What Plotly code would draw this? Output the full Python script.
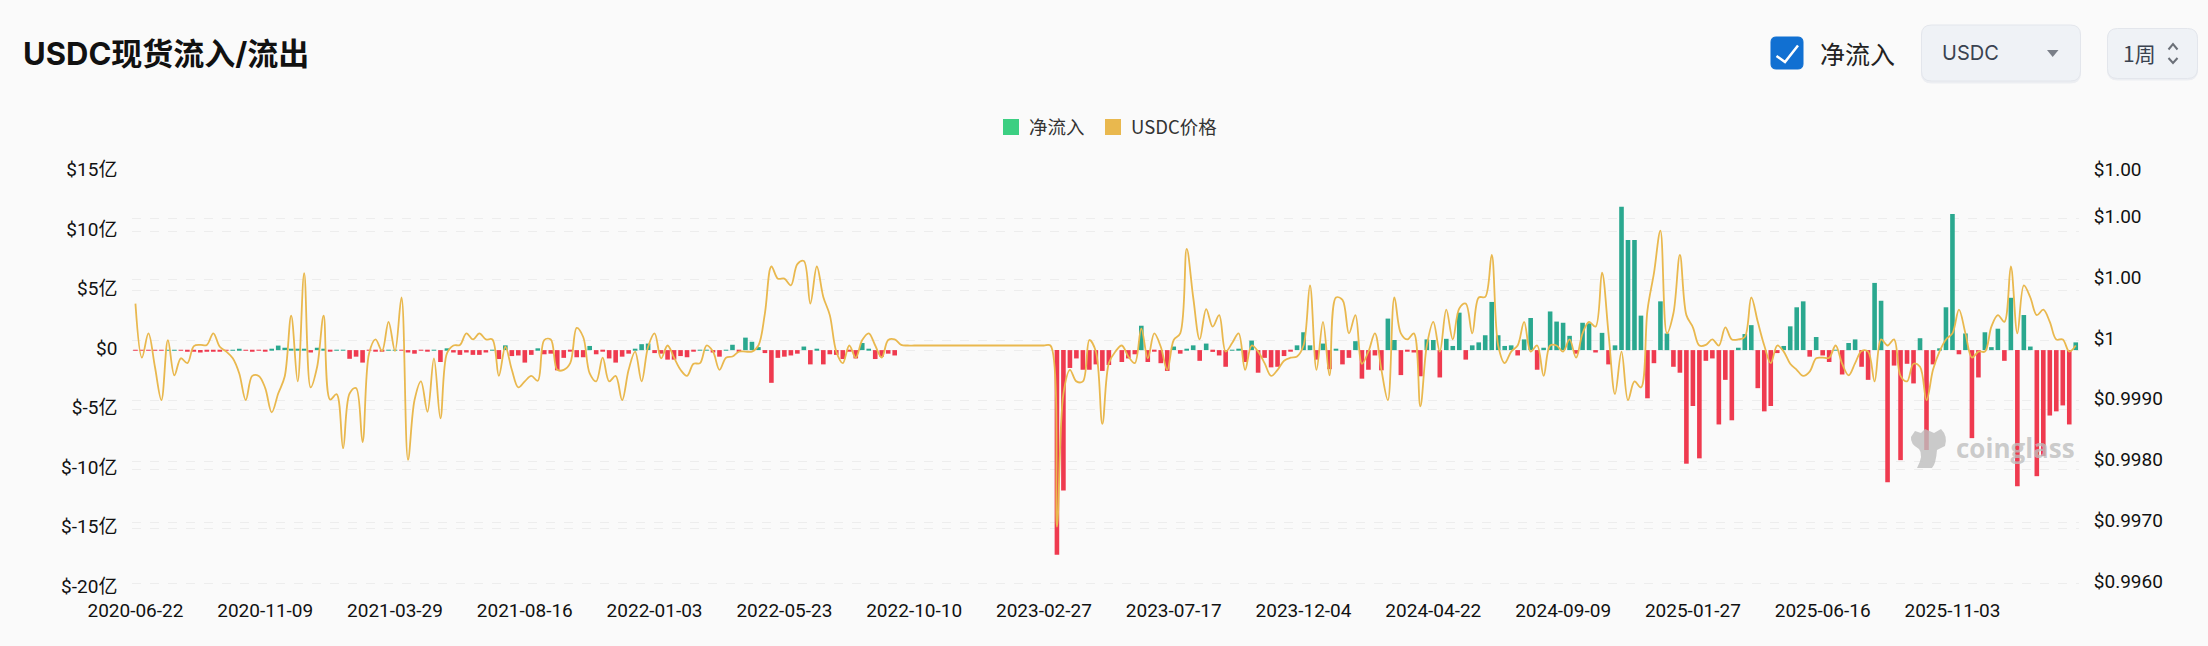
import pandas as pd
import plotly.graph_objects as go

W, H = 2208, 646

# weekly categories
weeks = pd.date_range("2020-06-22", periods=300, freq="7D").strftime("%Y-%m-%d").tolist()

# net flow, in 亿 USD
net_flow = [
    -0.03, -0.03, -0.02, -0.02, -0.02, 0.02, 0.02, -0.03, -0.1, -0.1, -0.2, -0.05, -0.05, -0.05, -0.02, 0.02, 0.08, -0.04, -0.06, -0.04,
    -0.1, 0.04, 0.38, 0.2, 0.05, 0.05, 0.1, -0.2, 0.2, 0.05, -0.1, 0.02, 0.02, -0.73, -0.55, -1.05, -0.02, -0.1, -0.1, 0.02,
    0.02, -0.03, -0.2, -0.3, -0.03, -0.1, 0.02, -1.0, 0.15, -0.2, -0.4, -0.2, -0.4, -0.4, -0.2, 0.03, -0.75, 0.4, -0.5, -0.45,
    -1.05, -0.4, 0.15, -0.35, -0.3, -1.7, -0.65, -0.1, -0.6, -0.6, 0.35, -0.35, -0.1, -0.7, -1.05, -0.55, -0.3, 0.1, 0.5, 0.55,
    -0.25, -0.3, -0.8, -0.8, -0.5, -0.6, -0.05, 0.03, 0.02, -0.2, -0.55, 0.01, 0.45, -0.15, 1.05, 0.7, 0.25, -0.25, -2.75, -0.65,
    -0.55, -0.45, -0.3, 0.3, -1.2, 0.05, -1.2, -0.35, -0.4, -0.75, -0.05, -0.7, 0.6, 0.05, -0.75, -0.55, -0.3, -0.45, 0, 0,
    0, 0, 0, 0, 0, 0, 0, 0, 0, 0, 0, 0, 0, 0, 0, 0, 0, 0, 0, 0,
    0, 0, -17.2, -11.8, -1.5, -0.7, -1.65, -1.65, -1.2, -1.75, -1.25, 0, -1.0, -0.7, -0.35, 2.05, -1.0, -0.1, -1.1, -1.75,
    0.3, -0.3, 0.1, 0.4, -0.9, 0.55, -0.15, -0.45, -1.4, 0.03, 0.1, -1.0, 0.8, -1.9, -0.65, -1.45, -1.4, -0.5, -0.1, 0.4,
    1.5, 0.4, -0.8, 0.55, -1.6, 0.05, -1.2, -0.65, 0.75, -2.4, -1.65, -0.45, -1.7, 2.65, 0.85, -2.1, -0.05, -0.2, -2.2, 0.9,
    0.85, -2.3, 0.95, 0.35, 3.15, -0.8, 0.4, 0.65, 1.25, 4.05, 1.25, 0.35, 0.4, -0.45, 0.9, 2.7, -1.65, 0.2, 3.25, 2.4,
    2.3, 1.2, -0.3, 2.3, 2.25, -0.2, 1.45, -1.2, 0.4, 12.05, 9.25, 9.25, 2.9, -4.05, -1.1, 4.1, 1.4, -1.4, -1.9, -9.55,
    -4.7, -9.1, -0.9, -0.7, -6.25, -2.5, -5.9, 0.2, 1.35, 2.1, -3.2, -5.15, -4.7, -0.25, 0.35, 2.0, 3.6, 4.1, -0.55, 1.1,
    -0.45, -1.0, 0.02, -2.05, 0.6, 0.9, -1.4, -2.5, 5.65, 4.15, -11.1, -1.3, -9.25, -1.15, -2.8, 1.0, -8.4, -1.2, 0.15, 3.6,
    11.45, -0.35, 1.4, -7.4, -2.3, 1.5, 0.25, 1.8, -0.9, 4.4, -11.45, 2.95, 0.3, -10.6, -8.9, -5.5, -5.15, -4.65, -6.25, 0.65,
]

usdc_price = [
    1.00060, 0.99971, 1.00011, 0.99956, 0.99901, 1.00000, 0.99942, 0.99970, 0.99962, 0.99990, 0.99992, 0.99992, 1.00011, 0.99989, 0.99981, 0.99970, 0.99945, 0.99901, 0.99941, 0.99941,
    0.99921, 0.99881, 0.99912, 0.99940, 1.00040, 0.99932, 1.00110, 0.99922, 0.99956, 1.00040, 0.99902, 0.99911, 0.99822, 0.99912, 0.99921, 0.99832, 0.99978, 1.00001, 0.99982, 1.00030,
    0.99982, 1.00070, 0.99803, 0.99901, 0.99932, 0.99882, 0.99970, 0.99871, 0.99978, 0.99991, 0.99992, 1.00011, 1.00001, 1.00011, 1.00001, 1.00001, 0.99941, 0.99989, 0.99951, 0.99922,
    0.99932, 0.99941, 0.99933, 1.00000, 1.00001, 0.99951, 0.99951, 0.99962, 1.00020, 1.00005, 0.99945, 0.99932, 0.99971, 0.99932, 0.99941, 0.99901, 0.99951, 0.99981, 0.99932, 0.99989,
    1.00011, 0.99970, 0.99991, 0.99971, 0.99951, 0.99941, 0.99961, 0.99962, 0.99991, 0.99981, 0.99951, 0.99971, 0.99973, 0.99981, 0.99981, 0.99981, 0.99991, 1.00044, 1.00121, 1.00101,
    1.00101, 1.00090, 1.00125, 1.00130, 1.00060, 1.00121, 1.00071, 1.00041, 0.99981, 0.99962, 0.99991, 0.99971, 1.00000, 1.00011, 0.99991, 0.99971, 1.00000, 1.00001, 0.99992, 0.99991,
    0.99991, 0.99991, 0.99991, 0.99991, 0.99991, 0.99991, 0.99991, 0.99991, 0.99991, 0.99991, 0.99991, 0.99991, 0.99991, 0.99991, 0.99991, 0.99991, 0.99991, 0.99991, 0.99991, 0.99991,
    0.99991, 0.99991, 0.99693, 0.99912, 0.99951, 0.99932, 0.99932, 1.00000, 0.99981, 0.99862, 0.99962, 0.99981, 0.99991, 0.99973, 0.99962, 1.00019, 0.99970, 1.00011, 0.99989, 0.99951,
    1.00000, 1.00011, 1.00150, 1.00070, 1.00001, 1.00051, 1.00022, 1.00041, 0.99981, 0.99995, 1.00011, 0.99951, 0.99991, 0.99981, 0.99962, 0.99941, 0.99951, 0.99966, 0.99971, 0.99973,
    0.99991, 1.00090, 0.99951, 1.00030, 0.99942, 1.00070, 1.00066, 1.00011, 1.00041, 0.99961, 0.99981, 1.00011, 0.99951, 0.99901, 1.00070, 1.00011, 1.00001, 1.00011, 0.99891, 0.99991,
    1.00030, 0.99981, 1.00050, 1.00001, 1.00052, 1.00060, 1.00011, 1.00070, 1.00071, 1.00140, 0.99991, 0.99962, 0.99981, 0.99991, 1.00030, 0.99981, 0.99991, 0.99941, 0.99991, 0.99991,
    0.99981, 1.00001, 0.99971, 1.00011, 1.00030, 1.00022, 1.00111, 1.00011, 0.99911, 0.99981, 0.99901, 0.99932, 0.99922, 1.00049, 1.00110, 1.00180, 1.00011, 1.00044, 1.00140, 1.00041,
    1.00021, 0.99991, 0.99992, 1.00001, 0.99991, 1.00021, 1.00001, 1.00001, 1.00005, 1.00070, 1.00030, 0.99991, 0.99962, 0.99991, 0.99981, 0.99961, 0.99951, 0.99941, 0.99948, 0.99970,
    0.99971, 0.99971, 0.99991, 0.99961, 0.99942, 0.99962, 0.99982, 0.99981, 0.99932, 1.00001, 0.99991, 1.00001, 0.99941, 0.99932, 0.99961, 0.99956, 0.99901, 0.99951, 0.99981, 1.00001,
    1.00011, 1.00050, 1.00011, 0.99971, 0.99981, 0.99981, 1.00022, 1.00041, 1.00030, 1.00121, 1.00011, 1.00090, 1.00070, 1.00041, 1.00050, 1.00030, 1.00001, 1.00001, 0.99981, 0.99991,
]

x_ticks = ["2020-06-22", "2020-11-09", "2021-03-29", "2021-08-16", "2022-01-03", "2022-05-23", "2022-10-10", "2023-02-27",
           "2023-07-17", "2023-12-04", "2024-04-22", "2024-09-09", "2025-01-27", "2025-06-16", "2025-11-03"]
left_vals = [-20, -15, -10, -5, 0, 5, 10, 15]
left_text = ["$-20亿", "$-15亿", "$-10亿", "$-5亿", "$0", "$5亿", "$10亿", "$15亿"]
right_vals = [0.996, 0.997, 0.998, 0.999, 1.0, 1.001, 1.002, 1.00277]
right_text = ["$0.9960", "$0.9970", "$0.9980", "$0.9990", "$1", "$1.00", "$1.00", "$1.00"]

GREEN = "#2AA88F"
RED = "#EF3A4F"
GOLD = "#E9B84E"
BG = "#FAFAFA"
FONT = "Roboto, Noto Sans CJK SC, sans-serif"
CJK = "Noto Sans CJK SC, sans-serif"


def px(x, y):
    return f"{x / W:.5f},{1 - y / H:.5f}"


def rounded(x0, y0, x1, y1, r):
    return (f"M{px(x0 + r, y0)} L{px(x1 - r, y0)} Q{px(x1, y0)} {px(x1, y0 + r)} "
            f"L{px(x1, y1 - r)} Q{px(x1, y1)} {px(x1 - r, y1)} "
            f"L{px(x0 + r, y1)} Q{px(x0, y1)} {px(x0, y1 - r)} "
            f"L{px(x0, y0 + r)} Q{px(x0, y0)} {px(x0 + r, y0)} Z")


def box(x0, y0, x1, y1, r, fill, line=None):
    return dict(type="path", xref="paper", yref="paper", path=rounded(x0, y0, x1, y1, r), fillcolor=fill,
                line=dict(color=line or fill, width=1), layer="below")


def text(x, y, s, size, color="#333333", anchor="left", family=CJK, **kw):
    return dict(xref="paper", yref="paper", x=x / W, y=1 - y / H, text=s, showarrow=False, xanchor=anchor,
                yanchor="middle", xshift=-1, font=dict(size=size, color=color, family=family), **kw)


fig = go.Figure()
fig.add_trace(go.Bar(x=weeks, y=net_flow, name="净流入", yaxis="y",
                     marker=dict(color=[GREEN if v >= 0 else RED for v in net_flow], line=dict(width=0))))
fig.add_trace(go.Scatter(x=weeks, y=usdc_price, name="USDC价格", yaxis="y2", mode="lines",
                         line=dict(color=GOLD, width=1.8, shape="spline", smoothing=1)))

grid = "#EDEDED"
fig.update_layout(
    width=W, height=H, margin=dict(l=0, r=0, t=0, b=0, pad=0), showlegend=False,
    paper_bgcolor=BG, plot_bgcolor=BG, bargap=0.29,
    font=dict(family=FONT, size=19, color="#111111"),
    xaxis=dict(type="category", domain=[132.2 / W, 2079 / W], range=[-0.5, 299.5], tickmode="array", tickvals=x_ticks,
               ticktext=x_ticks, tickangle=0, showgrid=False, zeroline=False, showline=False, anchor="y",
               ticks="outside", ticklen=5, tickcolor="rgba(0,0,0,0)", automargin=False),
    yaxis=dict(domain=[1 - 588 / H, 1 - 171.7 / H], range=[-20, 15], tickmode="array", tickvals=left_vals,
               ticktext=left_text, showgrid=True, gridcolor=grid, griddash="dash", gridwidth=1, zeroline=False,
               ticks="outside", ticklen=10, tickcolor="rgba(0,0,0,0)", automargin=False, ticklabelshift=-2),
    yaxis2=dict(domain=[1 - 588 / H, 1 - 171.7 / H], range=[0.99592, 1.00277], overlaying="y", side="right", anchor="x",
                tickmode="array", tickvals=right_vals, ticktext=right_text, showgrid=True, gridcolor=grid,
                griddash="dash", gridwidth=1, zeroline=False, ticks="outside", ticklen=10,
                tickcolor="rgba(0,0,0,0)", automargin=False, ticklabelshift=-2),
)

shapes = [
    # legend swatches
    dict(type="rect", xref="paper", yref="paper", x0=1003 / W, x1=1019 / W, y0=1 - 135 / H, y1=1 - 119 / H,
         fillcolor="#3CCF82", line=dict(width=0)),
    dict(type="rect", xref="paper", yref="paper", x0=1105 / W, x1=1121 / W, y0=1 - 135 / H, y1=1 - 119 / H,
         fillcolor=GOLD, line=dict(width=0)),
    # checkbox
    box(1771, 37, 1803, 69, 5, "#1170D2"),
    dict(type="path", xref="paper", yref="paper", path=f"M{px(1776.5, 56)} L{px(1785, 62)} L{px(1798, 45.5)}",
         line=dict(color="white", width=2.5)),
    # dropdown and interval boxes
    box(1921.5, 27, 2080.5, 83, 10, "#ECEEF2", "#ECEEF2"),
    box(1921.5, 25, 2080.5, 81, 10, "#EFF2F6", "#E3E6EC"),
    dict(type="path", xref="paper", yref="paper", path=f"M{px(2047, 50)} L{px(2058.5, 50)} L{px(2052.7, 57)} Z",
         fillcolor="#7A7F88", line=dict(width=0)),
    box(2107.5, 30, 2197.5, 80, 10, "#ECEEF2", "#ECEEF2"),
    box(2107.5, 28.5, 2197.5, 78.5, 10, "#EFF2F6", "#E3E6EC"),
    dict(type="path", xref="paper", yref="paper", path=f"M{px(2168.5, 49.5)} L{px(2173, 44)} L{px(2177.5, 49.5)}",
         line=dict(color="#6B7078", width=2)),
    dict(type="path", xref="paper", yref="paper", path=f"M{px(2168.5, 58)} L{px(2173, 63)} L{px(2177.5, 58)}",
         line=dict(color="#6B7078", width=2)),
    # watermark mascot
    dict(type="path", xref="paper", yref="paper",
         path=(f"M{px(1915, 431)} L{px(1921, 433)} L{px(1925, 429)} L{px(1934, 433)} L{px(1941, 429)} "
               f"Q{px(1948, 436)} {px(1945, 446)} L{px(1937, 450)} Q{px(1936, 464)} {px(1932, 468)} "
               f"L{px(1917, 468)} Q{px(1924, 455)} {px(1919, 449)} Q{px(1910, 444)} {px(1911, 437)} Z"),
         fillcolor="rgba(190,190,190,0.8)", line=dict(width=0)),
]

annotations = [
    text(22, 53, "<b>USDC现货流入/流出</b>", 31, "#111111", family="Inter, Noto Sans CJK SC, sans-serif"),
    text(1027.5, 126, "净流入", 18.5),
    text(1129.5, 126, "USDC价格", 18.5),
    text(1819, 53, "净流入", 25, "#222222"),
    text(1941, 53, "USDC", 20, "#3A4350", family="Inter, sans-serif"),
    text(2122, 53, "1周", 21, "#3A4350"),
    text(1955, 448, "<b>coinglass</b>", 26, "rgba(190,190,190,0.8)", family="Open Sans, sans-serif"),
]
fig.update_layout(shapes=shapes, annotations=annotations)

fig.write_html("out.html", config=dict(displayModeBar=False), post_script="document.body.style.margin='0';")
